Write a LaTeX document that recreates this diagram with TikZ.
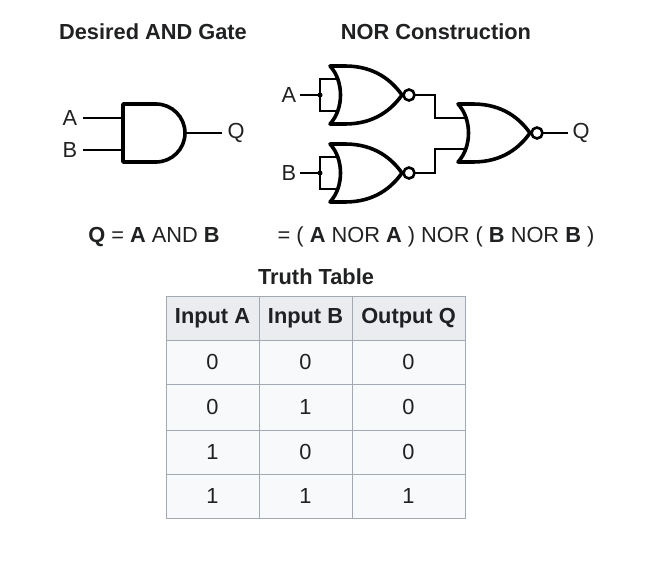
\documentclass[tikz,border=0pt]{standalone}
\usepackage{fontspec}
\setmainfont{Liberation Sans}
\definecolor{hd}{HTML}{EAECF0}
\definecolor{cl}{HTML}{F8F9FA}
\definecolor{bd}{HTML}{A2A9B1}
\definecolor{tx}{HTML}{202122}
\begin{document}
\begin{tikzpicture}[x=1pt,y=-1pt,
  wire/.style={line width=2.2pt},
  gate/.style={line width=3.6pt,line join=round},
  lbl/.style={font=\fontsize{21.8}{24}\selectfont,text=tx},
  ttl/.style={font=\bfseries\fontsize{21.8}{24}\selectfont,text=tx},
  cell/.style={font=\fontsize{21.8}{24}\selectfont,text=tx},
  pics/nor/.style={code={
    \draw[gate,fill=white] (0,0) -- (15,0) .. controls (45,0) and (62,15) .. (72,29)
      .. controls (62,43) and (45,58) .. (15,58) -- (0,58) .. controls (14,43) and (14,15) .. (0,0) -- cycle;
    \draw[line width=2.6pt,fill=white] (79,29) circle (5.5);
  }}]
\useasboundingbox (0,0) rectangle (648,567);
% titles
\node[ttl] (t1) at (153,32) {Desired AND Gate};
\node[ttl] (t2) at (436,32) {NOR Construction};
% AND gate
\coordinate (ai) at (83,118); \coordinate (bi) at (83,150);
\coordinate (ga) at (123,118); \coordinate (gb) at (123,150);
\coordinate (go) at (185,133); \coordinate (qo) at (222,133);
\draw[wire] (ai) -- (ga); \draw[wire] (bi) -- (gb); \draw[wire] (go) -- (qo);
\draw[gate] (123,104) -- (156,104) .. controls (172,104) and (185,117) .. (185,133)
  .. controls (185,149) and (172,162) .. (156,162) -- (123,162) -- cycle;
\node[lbl] (la) at (70,118) {A};
\node[lbl] (lb) at (70,150) {B};
\node[lbl] (lq) at (236,133) {Q};
% NOR construction
\coordinate (na) at (300,95); \coordinate (da) at (320,95);
\coordinate (nb) at (300,173); \coordinate (db) at (320,173);
\draw[wire] (na) -- (da);
\draw[wire] (342,79) -- (320,79) -- (320,111) -- (342,111);
\draw[wire] (nb) -- (db);
\draw[wire] (342,157) -- (320,157) -- (320,189) -- (342,189);
\fill (da) circle (2.5); \fill (db) circle (2.5);
\draw[wire] (415,95) -- (435,95) -- (435,118) -- (470,118);
\draw[wire] (415,173) -- (435,173) -- (435,149) -- (470,149);
\draw[wire] (543,133) -- (568,133);
\pic at (330,66) {nor};
\pic at (330,144) {nor};
\pic at (458,104) {nor};
\node[lbl] (na2) at (289,95) {A};
\node[lbl] (nb2) at (289,173) {B};
\node[lbl] (nq) at (581,133) {Q};
% equations
\node[lbl] (e1) at (154,237) {\textbf{Q} = \textbf{A} AND \textbf{B}};
\node[lbl] (e2) at (436,237) {= ( \textbf{A} NOR \textbf{A} ) NOR ( \textbf{B} NOR \textbf{B} )};
\node[ttl] (tt) at (316,277) {Truth Table};
% table
\fill[hd] (166,296) rectangle (465,340);
\fill[cl] (166,340) rectangle (465,518);
\draw[bd,line width=1pt] (166,296) rectangle (465,518);
\foreach \y in {340,384,430,474} \draw[bd,line width=1pt] (166,\y) -- (465,\y);
\foreach \x in {259,352} \draw[bd,line width=1pt] (\x,296) -- (\x,518);
\node[ttl] (h1) at (212.5,318) {Input A};
\node[ttl] (h2) at (305.5,318) {Input B};
\node[ttl] (h3) at (408.5,318) {Output Q};
\foreach \a/\b/\q/\y in {0/0/0/362,0/1/0/407,1/0/0/452,1/1/1/496}{
  \node[cell] at (212.5,\y) {\a};
  \node[cell] at (305.5,\y) {\b};
  \node[cell] at (408.5,\y) {\q};
}
\end{tikzpicture}
\end{document}
